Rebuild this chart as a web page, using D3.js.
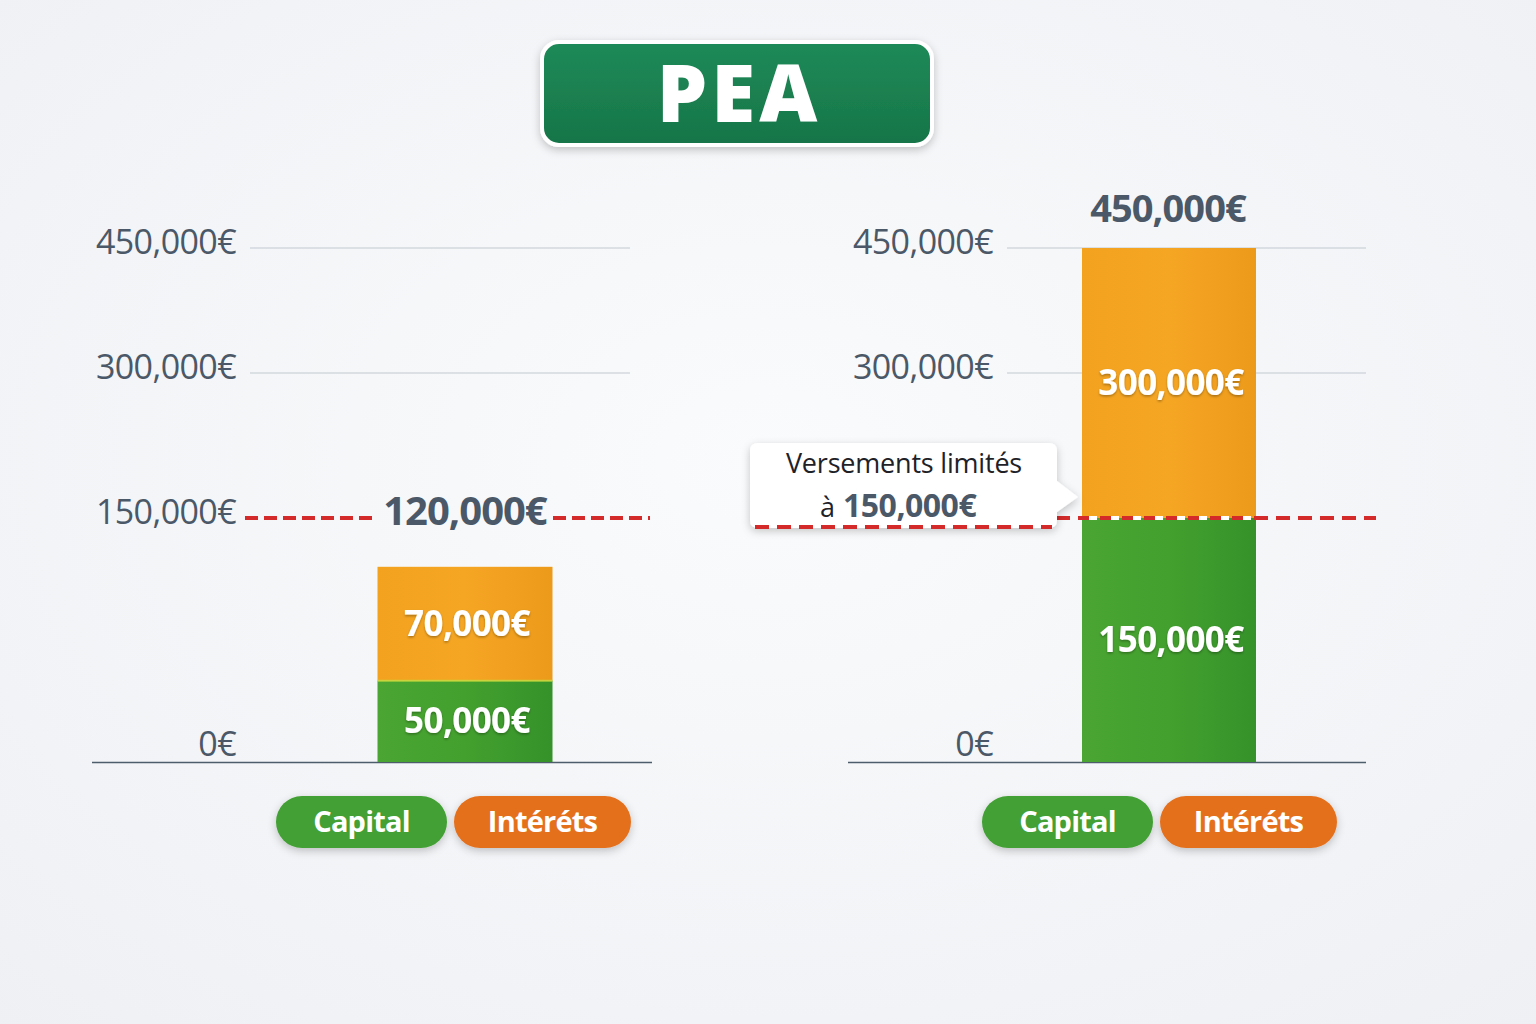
<!DOCTYPE html>
<html><head><meta charset="utf-8">
<script src="https://cdn.jsdelivr.net/npm/d3@7"></script>
<style>
html,body{margin:0;padding:0;background:#f4f5f8;}
svg{display:block;}
text{font-family:"Open Sans","Noto Sans",sans-serif;}
</style></head>
<body>
<script>
const title = "PEA";
const tickValues = [0, 150000, 300000, 450000];
const tickLabels = ["0€", "150,000€", "300,000€", "450,000€"];
const seriesNames = ["Capital", "Intéréts"];
const panels = ["Sans plafond atteint", "Plafond atteint"];
const capitalValues = [50000, 150000];
const interestValues = [70000, 300000];
const totalLabels = ["120,000€", "450,000€"];
const segmentLabels = [["50,000€", "70,000€"], ["150,000€", "300,000€"]];
const ceilingValue = 150000;
const calloutLines = ["Versements limités", "à", "150,000€"];

const W = 1536, H = 1024;
const svg = d3.select("body").append("svg").attr("width", W).attr("height", H);
const defs = svg.append("defs");

const bg = defs.append("radialGradient").attr("id","bg").attr("cx","50%").attr("cy","45%").attr("r","75%");
bg.append("stop").attr("offset","0%").attr("stop-color","#fafbfc");
bg.append("stop").attr("offset","100%").attr("stop-color","#eef0f4");
svg.append("rect").attr("width",W).attr("height",H).attr("fill","url(#bg)");

const tg = defs.append("linearGradient").attr("id","tg").attr("x1",0).attr("y1",0).attr("x2",0).attr("y2",1);
tg.append("stop").attr("offset","0%").attr("stop-color","#1f8a58");
tg.append("stop").attr("offset","100%").attr("stop-color","#167548");
const og = defs.append("linearGradient").attr("id","og").attr("x1",0).attr("y1",0).attr("x2",1).attr("y2",0);
og.append("stop").attr("offset","0%").attr("stop-color","#f2a21f");
og.append("stop").attr("offset","50%").attr("stop-color","#f5a623");
og.append("stop").attr("offset","100%").attr("stop-color","#ec9a1a");
const gg = defs.append("linearGradient").attr("id","gg").attr("x1",0).attr("y1",0).attr("x2",1).attr("y2",0);
gg.append("stop").attr("offset","0%").attr("stop-color","#4aa532");
gg.append("stop").attr("offset","50%").attr("stop-color","#43a02e");
gg.append("stop").attr("offset","100%").attr("stop-color","#35922a");
const sh = defs.append("filter").attr("id","sh").attr("x","-20%").attr("y","-20%").attr("width","140%").attr("height","150%");
sh.append("feDropShadow").attr("dx",0).attr("dy",3).attr("stdDeviation",4).attr("flood-color","#000").attr("flood-opacity",0.22);
const ts = defs.append("filter").attr("id","ts").attr("x","-10%").attr("y","-20%").attr("width","120%").attr("height","150%");
ts.append("feDropShadow").attr("dx",0).attr("dy",1.5).attr("stdDeviation",1.2).attr("flood-color","#000").attr("flood-opacity",0.3);

// Title
svg.append("rect").attr("x",542).attr("y",42).attr("width",390).attr("height",103).attr("rx",17)
  .attr("fill","url(#tg)").attr("stroke","#ffffff").attr("stroke-width",4).attr("filter","url(#sh)");
svg.append("text").attr("x",739).attr("y",122).attr("text-anchor","middle")
  .attr("font-size",80).attr("font-weight",800).attr("fill","#fff").attr("letter-spacing",4).text(title);

// Shared y scale (piecewise to follow the reference's gridline placement)
const y = d3.scaleLinear().domain(tickValues).range([762, 518, 373, 248]);

const panelCfg = [
  {labelX: 236, gridX0: 250, gridX1: 630, baseX0: 92, baseX1: 652, bandX0: 290, bandX1: 640, hideTick: null},
  {labelX: 993, gridX0: 1007, gridX1: 1366, baseX0: 848, baseX1: 1366, bandX0: 995, bandX1: 1343, hideTick: ceilingValue}
];
const textDark = "#4b5867";

panels.forEach((p, i) => {
  const c = panelCfg[i];
  const g = svg.append("g");
  const x = d3.scaleBand().domain([p]).range([c.bandX0, c.bandX1]).paddingInner(0).paddingOuter(0.5);
  const bx = x(p), bw = x.bandwidth();

  [300000, 450000].forEach(v => {
    g.append("line").attr("x1",c.gridX0).attr("x2",c.gridX1).attr("y1",y(v)).attr("y2",y(v))
      .attr("stroke","#c2c9d2").attr("stroke-width",1.2);
  });
  tickValues.forEach((v, k) => {
    if (v === c.hideTick) return; // covered by the callout in the reference
    g.append("text").attr("x", c.labelX).attr("y", v === 0 ? y(v) - 6 : y(v) + 6)
      .attr("text-anchor","end").attr("font-size",34).attr("letter-spacing",-0.6)
      .attr("fill",textDark).text(tickLabels[k]);
  });
  g.append("line").attr("x1",c.baseX0).attr("x2",c.baseX1).attr("y1",y(0)+0.5).attr("y2",y(0)+0.5)
    .attr("stroke","#4e5d6b").attr("stroke-width",1.5);

  const cap = capitalValues[i], intr = interestValues[i];
  g.append("rect").attr("x",bx).attr("width",bw).attr("y",y(cap)).attr("height",y(0)-y(cap)).attr("fill","url(#gg)");
  g.append("rect").attr("x",bx).attr("width",bw).attr("y",y(cap+intr)).attr("height",y(cap)-y(cap+intr)).attr("fill","url(#og)");
  g.append("line").attr("x1",bx).attr("x2",bx+bw).attr("y1",y(cap)).attr("y2",y(cap)).attr("stroke","#c8d83a").attr("stroke-width",2).attr("opacity",i===0?0.8:0);

  [[0,cap],[cap,cap+intr]].forEach((s, k) => {
    g.append("text").attr("x", bx + bw/2 + 2).attr("y", (y(s[0]) + y(s[1]))/2 + 12)
      .attr("text-anchor","middle").attr("font-size",35).attr("font-weight",700).attr("letter-spacing",-0.6)
      .attr("fill","#fff").attr("filter","url(#ts)").text(segmentLabels[i][k]);
  });

  const lx = [276, 982][i];
  seriesNames.forEach((n, k) => {
    const px = lx + k*178, pw = k === 0 ? 171 : 177;
    g.append("rect").attr("x",px).attr("y",796).attr("width",pw).attr("height",52).attr("rx",26)
      .attr("fill", k === 0 ? "#43a035" : "#e4701f").attr("filter","url(#sh)");
    g.append("text").attr("x",px+pw/2).attr("y",832).attr("text-anchor","middle")
      .attr("font-size",29).attr("font-weight",700).attr("letter-spacing",-0.8).attr("fill","#fff").text(n);
  });
});

const red = "#d42a2a";
const yc = y(ceilingValue);
[[245, 372], [553, 650]].forEach(s => {
  svg.append("line").attr("x1",s[0]).attr("x2",s[1]).attr("y1",yc).attr("y2",yc)
    .attr("stroke",red).attr("stroke-width",4).attr("stroke-dasharray","13,6");
});
svg.append("text").attr("x",465).attr("y",yc+7).attr("text-anchor","middle")
  .attr("font-size",40).attr("font-weight",700).attr("letter-spacing",-1).attr("fill",textDark).text(totalLabels[0]);

svg.append("text").attr("x",1168).attr("y",222).attr("text-anchor","middle")
  .attr("font-size",38).attr("font-weight",700).attr("letter-spacing",-0.9).attr("fill",textDark).text(totalLabels[1]);

svg.append("line").attr("x1",1056).attr("x2",1376).attr("y1",yc).attr("y2",yc)
  .attr("stroke",red).attr("stroke-width",4).attr("stroke-dasharray","14,8");
svg.append("line").attr("x1",1083).attr("x2",1255).attr("y1",yc).attr("y2",yc)
  .attr("stroke","#fff").attr("stroke-width",4).attr("stroke-dasharray","8,14").attr("stroke-dashoffset",-6);

const callout = svg.append("g").attr("filter","url(#sh)");
callout.append("path")
  .attr("d","M758,443 H1049 Q1057,443 1057,451 V481 L1078,497 L1057,512 V520 Q1057,528 1049,528 H758 Q750,528 750,520 V451 Q750,443 758,443 Z")
  .attr("fill","#fff");
svg.append("line").attr("x1",755).attr("x2",1052).attr("y1",527).attr("y2",527)
  .attr("stroke",red).attr("stroke-width",4).attr("stroke-dasharray","14,8");
svg.append("text").attr("x",904).attr("y",473).attr("text-anchor","middle")
  .attr("font-size",27).attr("letter-spacing",-0.2).attr("fill","#1e2228").text(calloutLines[0]);
svg.append("text").attr("x",835).attr("y",517).attr("text-anchor","end")
  .attr("font-size",27).attr("fill","#1e2228").text(calloutLines[1]);
svg.append("text").attr("x",843).attr("y",517).attr("text-anchor","start")
  .attr("font-size",32).attr("font-weight",700).attr("letter-spacing",-0.5).attr("fill",textDark).text(calloutLines[2]);
</script>
</body></html>
